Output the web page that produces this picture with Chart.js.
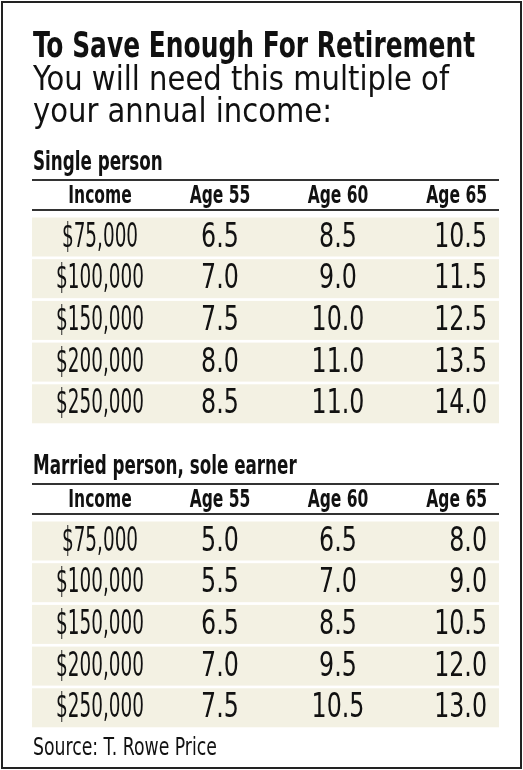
<!DOCTYPE html>
<html><head><meta charset="utf-8">
<script src="https://cdn.jsdelivr.net/npm/chart.js@4"></script>
<style>html,body{margin:0;padding:0;background:#fff}canvas{display:block}</style>
</head><body>
<canvas id="c" width="523" height="770"></canvas>
<script>
const incomes = ['$75,000', '$100,000', '$150,000', '$200,000', '$250,000'];
const ages = ['Age 55', 'Age 60', 'Age 65'];
const single55 = [6.5, 7.0, 7.5, 8.0, 8.5];
const single60 = [8.5, 9.0, 10.0, 11.0, 11.0];
const single65 = [10.5, 11.5, 12.5, 13.5, 14.0];
const married55 = [5.0, 5.5, 6.5, 7.0, 7.5];
const married60 = [6.5, 7.0, 8.5, 9.5, 10.5];
const married65 = [8.0, 9.0, 10.5, 12.0, 13.0];

const NARROW = '"DejaVu Sans Condensed", "Liberation Sans", sans-serif';
const sections = [
  { title: 'Single person', top: 160, cols: [single55, single60, single65] },
  { title: 'Married person, sole earner', top: 464, cols: [married55, married60, married65] }
];

// draw text squeezed horizontally to mimic a condensed newspaper face
function squeezed(ctx, text, x, y, align, sx) {
  ctx.save();
  ctx.translate(x, y);
  ctx.scale(sx, 1);
  ctx.textAlign = align;
  ctx.fillText(text, 0, 0);
  ctx.restore();
}

const tablePlugin = {
  id: 'table',
  afterDraw(chart) {
    const { ctx } = chart;
    const X = v => chart.scales.x.getPixelForValue(v);
    const Y = v => chart.scales.y.getPixelForValue(v);
    ctx.save();
    ctx.strokeStyle = '#222'; ctx.lineWidth = 2;
    ctx.strokeRect(X(2), Y(2), X(521) - X(2), Y(768) - Y(2));
    ctx.fillStyle = '#111'; ctx.textBaseline = 'alphabetic';
    ctx.font = 'bold 36px ' + NARROW;
    squeezed(ctx, 'To Save Enough For Retirement', X(33), Y(57), 'left', 0.77);
    ctx.font = '34px ' + NARROW;
    squeezed(ctx, 'You will need this multiple of', X(33), Y(90), 'left', 0.95);
    squeezed(ctx, 'your annual income:', X(33), Y(122), 'left', 0.95);
    const colX = [100, 220, 338, 487];
    sections.forEach(s => {
      ctx.textBaseline = 'alphabetic';
      ctx.font = 'bold 27px ' + NARROW; ctx.fillStyle = '#111';
      squeezed(ctx, s.title, X(33), Y(s.top + 10), 'left', 0.69);
      ctx.strokeStyle = '#333'; ctx.lineWidth = 2;
      [s.top + 20, s.top + 50].forEach(y => {
        ctx.beginPath(); ctx.moveTo(X(32), Y(y)); ctx.lineTo(X(499), Y(y)); ctx.stroke();
      });
      ctx.textBaseline = 'middle';
      ctx.font = 'bold 25px ' + NARROW;
      ['Income'].concat(ages).forEach((h, i) => {
        squeezed(ctx, h, X(colX[i]), Y(s.top + 36), i === 3 ? 'right' : 'center', 0.69);
      });
      incomes.forEach((inc, r) => {
        const cy = s.top + 77 + r * 41.7;
        ctx.fillStyle = '#f3f1e3';
        ctx.fillRect(X(32), Y(cy - 19.5), X(499) - X(32), Y(cy + 19.5) - Y(cy - 19.5));
        ctx.fillStyle = '#111';
        ctx.font = '33px ' + NARROW;
        squeezed(ctx, inc, X(colX[0]), Y(cy + 1), 'center', 0.62);
        s.cols.forEach((col, j) => {
          squeezed(ctx, col[r].toFixed(1), X(colX[j + 1]), Y(cy + 1), j === 2 ? 'right' : 'center', 0.8);
        });
      });
    });
    ctx.textBaseline = 'alphabetic';
    ctx.font = '24px ' + NARROW; ctx.fillStyle = '#111';
    squeezed(ctx, 'Source: T. Rowe Price', X(33), Y(755), 'left', 0.8);
    ctx.restore();
  }
};

new Chart(document.getElementById('c').getContext('2d'), {
  type: 'scatter',
  data: { datasets: [{ data: [] }] },
  options: {
    responsive: false, animation: false,
    layout: { padding: 0 },
    plugins: { legend: { display: false }, tooltip: { enabled: false } },
    scales: {
      x: { type: 'linear', min: 0, max: 523, display: false },
      y: { type: 'linear', min: 0, max: 770, reverse: true, display: false }
    }
  },
  plugins: [tablePlugin]
});
</script>
</body></html>
